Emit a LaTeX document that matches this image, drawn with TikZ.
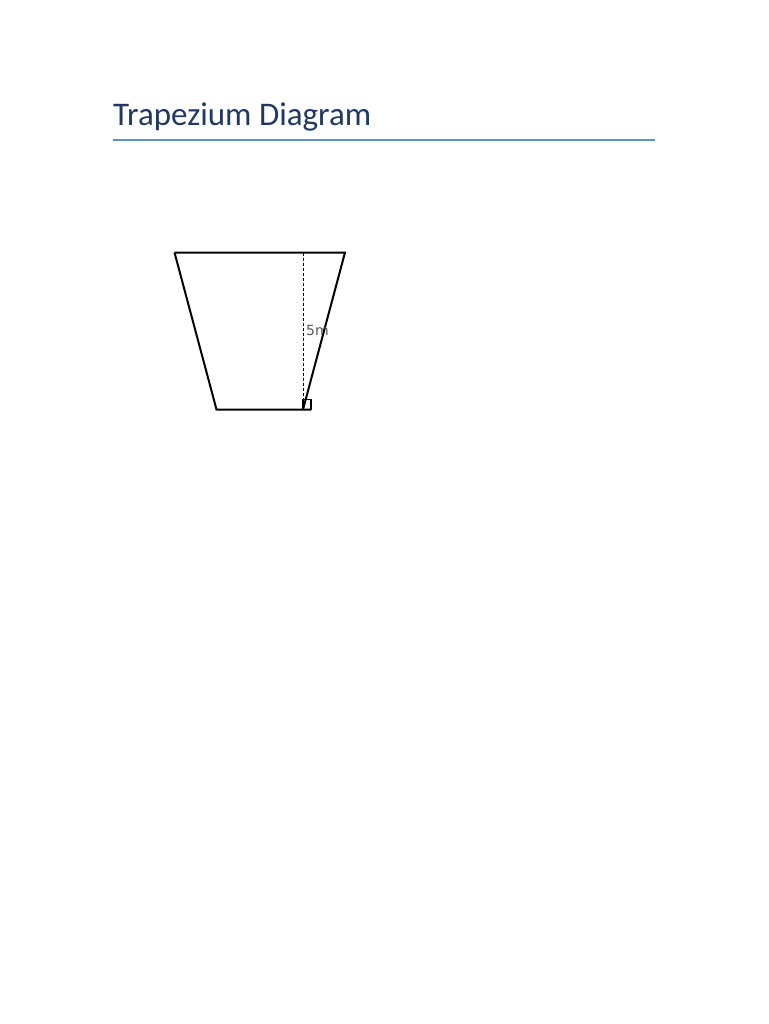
\documentclass[tikz,border=0pt]{standalone}
\usepackage{fontspec}
\setmainfont{Carlito}
\newfontfamily\labelfont{DejaVu Sans}
\definecolor{titleblue}{HTML}{1F3864}
\definecolor{ruleblue}{HTML}{5B8FD6}
\definecolor{labelgray}{HTML}{595959}
\tikzset{
  trapline/.style={line width=2pt, black, line join=miter},
  hline/.style={line width=0.9pt, dash pattern=on 3pt off 2pt},
  lbl/.style={font=\labelfont\fontsize{14}{16}\selectfont, text=labelgray, inner sep=0pt, anchor=west},
}
\begin{document}
\begin{tikzpicture}[x=1pt,y=-1pt]
\useasboundingbox (0,0) rectangle (768,1024);
\node[anchor=base west, inner sep=0pt, text=titleblue, font=\fontsize{33}{37}\selectfont] (title) at (113,126) {Trapezium Diagram};
\draw[ruleblue, line width=1.1pt] (113,140) coordinate (r1) -- (655,140) coordinate (r2);
\coordinate (tl) at (174.5,252.5);
\coordinate (tr) at (345,252.5);
\coordinate (br) at (303,409.5);
\coordinate (bl) at (216.5,409.5);
\coordinate (ht) at (303,252.5);
\coordinate (be) at (311,409.5);
\draw[trapline] (tl) -- (tr) -- (br);
\draw[trapline] (tl) -- (bl) -- (be);
\draw[line width=1.4pt] (303,409.5) rectangle (311,399.5);
\draw[hline] (ht) -- (br);
\node[lbl] (h) at (306,330) {5m};
\end{tikzpicture}
\end{document}
